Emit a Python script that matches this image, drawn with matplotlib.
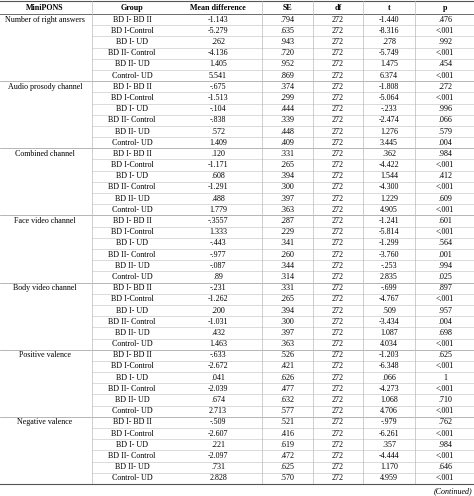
import matplotlib.pyplot as plt

plt.rcParams['font.family'] = ['Liberation Serif', 'DejaVu Serif']

headers = ["MiniPONS", "Group", "Mean difference", "SE", "df", "t", "p"]
measures = ["Number of right answers", "Audio prosody channel", "Combined channel",
            "Face video channel", "Body video channel", "Positive valence", "Negative valence"]
groups = ["BD I- BD II", "BD I-Control", "BD I- UD", "BD II- Control", "BD II- UD", "Control- UD"]

mean_diff = [
    ["-1.143", "-5.279", ".262", "-4.136", "1.405", "5.541"],
    ["-.675", "-1.513", "-.104", "-.838", ".572", "1.409"],
    [".120", "-1.171", ".608", "-1.291", ".488", "1.779"],
    ["-.3557", "1.333", "-.443", "-.977", "-.087", ".89"],
    ["-.231", "-1.262", ".200", "-1.031", ".432", "1.463"],
    ["-.633", "-2.672", ".041", "-2.039", ".674", "2.713"],
    ["-.509", "-2.607", ".221", "-2.097", ".731", "2.828"],
]
se = [
    [".794", ".635", ".943", ".720", ".952", ".869"],
    [".374", ".299", ".444", ".339", ".448", ".409"],
    [".331", ".265", ".394", ".300", ".397", ".363"],
    [".287", ".229", ".341", ".260", ".344", ".314"],
    [".331", ".265", ".394", ".300", ".397", ".363"],
    [".526", ".421", ".626", ".477", ".632", ".577"],
    [".521", ".416", ".619", ".472", ".625", ".570"],
]
t_vals = [
    ["-1.440", "-8.316", ".278", "-5.749", "1.475", "6.374"],
    ["-1.808", "-5.064", "-.233", "-2.474", "1.276", "3.445"],
    [".362", "-4.422", "1.544", "-4.300", "1.229", "4.905"],
    ["-1.241", "-5.814", "-1.299", "-3.760", "-.253", "2.835"],
    ["-.699", "-4.767", ".509", "-3.434", "1.087", "4.034"],
    ["-1.203", "-6.348", ".066", "-4.273", "1.068", "4.706"],
    ["-.979", "-6.261", ".357", "-4.444", "1.170", "4.959"],
]
p_vals = [
    [".476", "<.001", ".992", "<.001", ".454", "<.001"],
    [".272", "<.001", ".996", ".066", ".579", ".004"],
    [".984", "<.001", ".412", "<.001", ".609", "<.001"],
    [".601", "<.001", ".564", ".001", ".994", ".025"],
    [".897", "<.001", ".957", ".004", ".698", "<.001"],
    [".625", "<.001", "1", "<.001", ".710", "<.001"],
    [".762", "<.001", ".984", "<.001", ".646", "<.001"],
]
df_val = "272"

fig = plt.figure(figsize=(4.74, 4.96), dpi=100)
ax = fig.add_axes([0, 0, 1, 1])
ax.set_xlim(0, 474)
ax.set_ylim(496, 0)
ax.axis('off')

fs = 5.8
col_x = [45, 132, 218, 287, 338, 389, 445]
vlines = [92, 262, 313, 363, 415]
top, head_h = 1, 13
row_h = (484 - top - head_h) / 42

for x, h in zip(col_x, headers):
    ax.text(x, top + head_h / 2, h, ha='center', va='center', fontsize=fs, fontweight='bold')
ax.axhline(top, color='#555555', lw=0.8)
ax.axhline(top + head_h, color='#555555', lw=0.6)

y0 = top + head_h
for i, m in enumerate(measures):
    ax.text(col_x[0], y0 + i * 6 * row_h + row_h / 2, m, ha='center', va='center', fontsize=fs)
    for j, g in enumerate(groups):
        yc = y0 + (i * 6 + j) * row_h + row_h / 2
        vals = [g, mean_diff[i][j], se[i][j], df_val, t_vals[i][j], p_vals[i][j]]
        for x, v in zip(col_x[1:], vals):
            ax.text(x, yc, v, ha='center', va='center', fontsize=fs)
        yb = y0 + (i * 6 + j + 1) * row_h
        if j < 5:
            ax.plot([92, 474], [yb, yb], color='#cccccc', lw=0.5)
        elif i < 6:
            ax.axhline(yb, color='#999999', lw=0.5)

y_end = y0 + 42 * row_h
for x in vlines:
    ax.plot([x, x], [top, y_end], color='#bbbbbb', lw=0.5)
ax.axhline(y_end, color='#555555', lw=0.8)
ax.text(472, 491, "(Continued)", ha='right', va='center', fontsize=fs, style='italic')

fig.savefig('out.png', dpi=100)
